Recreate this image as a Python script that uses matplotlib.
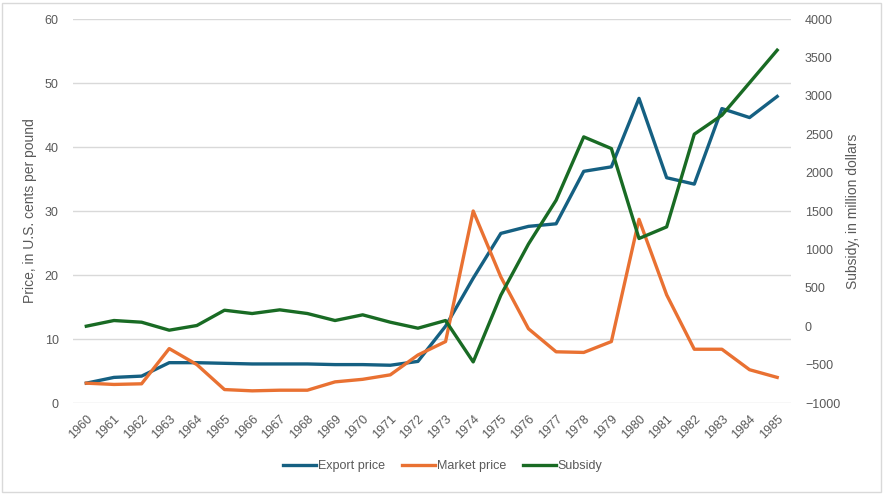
import matplotlib
matplotlib.use("Agg")
import matplotlib.pyplot as plt
from matplotlib.lines import Line2D
from matplotlib.patches import Rectangle

years = [str(y) for y in range(1960, 1986)]
export_price = [3.1, 4.0, 4.2, 6.3, 6.3, 6.2, 6.1, 6.1, 6.1, 6.0, 6.0, 5.9, 6.5,
                12.0, 19.5, 26.5, 27.6, 28.0, 36.2, 36.9, 47.6, 35.2, 34.2, 46.0, 44.6, 47.9]
market_price = [3.1, 2.9, 3.0, 8.5, 6.0, 2.1, 1.9, 2.0, 2.0, 3.3, 3.7, 4.4, 7.5,
                9.6, 30.0, 19.7, 11.6, 8.0, 7.9, 9.6, 28.7, 16.9, 8.4, 8.4, 5.2, 4.0]
subsidy = [0, 74, 52, -52, 9, 208, 165, 213, 165, 74, 148, 52, -26,
           74, -465, 404, 1070, 1640, 2465, 2313, 1142, 1293, 2500, 2747, 3170, 3594]

C_BLUE = "#156082"
C_ORANGE = "#E97132"
C_GREEN = "#196B24"
TXT = "#595959"
GRID = "#D9D9D9"

plt.rcParams['font.family'] = ['Liberation Sans', 'DejaVu Sans']

W, H = 884, 494
fig = plt.figure(figsize=(W / 100, H / 100), dpi=100)
fig.patches.append(Rectangle((2 / W, 2 / H), 879 / W, 489 / H, transform=fig.transFigure,
                             fill=False, edgecolor="#D9D9D9", lw=1))
x0, x1, y0, y1 = 72.5, 791, 19, 403
ax = fig.add_axes([x0 / W, 1 - y1 / H, (x1 - x0) / W, (y1 - y0) / H])
ax2 = ax.twinx()

xs = list(range(len(years)))
ax.plot(xs, export_price, color=C_BLUE, lw=2.4, solid_joinstyle='round', zorder=3)
ax.plot(xs, market_price, color=C_ORANGE, lw=2.4, solid_joinstyle='round', zorder=3)
ax2.plot(xs, subsidy, color=C_GREEN, lw=2.4, solid_joinstyle='round', zorder=3)

ax.set_xlim(-0.5, len(years) - 0.5)
ax.set_ylim(0, 60)
ax.set_yticks(range(0, 61, 10))
ax2.set_ylim(-1000, 4000)
ax2.set_yticks(range(-1000, 4001, 500))

ax.set_xticks(xs)
ax.set_xticklabels(years, rotation=45, ha='right', rotation_mode='anchor')

ax.grid(axis='y', color=GRID, lw=1)
ax.set_axisbelow(True)
for a in (ax, ax2):
    for s in a.spines.values():
        s.set_visible(False)
    a.tick_params(length=0, colors=TXT, labelsize=9)
ax.tick_params(axis='x', pad=7)
ax.tick_params(axis='y', pad=10)
ax2.tick_params(axis='y', pad=10)

fig.text(30 / W, 1 - 211 / H, "Price, in U.S. cents per pound", color=TXT, fontsize=10,
         rotation=90, ha='center', va='center')
fig.text(853 / W, 1 - 211 / H, "Subsidy, in million dollars", color=TXT, fontsize=10,
         rotation=90, ha='center', va='center')

handles = [Line2D([0], [0], color=C_BLUE, lw=2.4),
           Line2D([0], [0], color=C_ORANGE, lw=2.4),
           Line2D([0], [0], color=C_GREEN, lw=2.4)]
fig.legend(handles, ["Export price", "Market price", "Subsidy"], loc='center',
           bbox_to_anchor=(443 / W, 1 - 466 / H), ncol=3, frameon=False, fontsize=9,
           labelcolor=TXT, handlelength=2.6, handletextpad=0.15, columnspacing=1.4)

fig.savefig("out.png", dpi=100)
